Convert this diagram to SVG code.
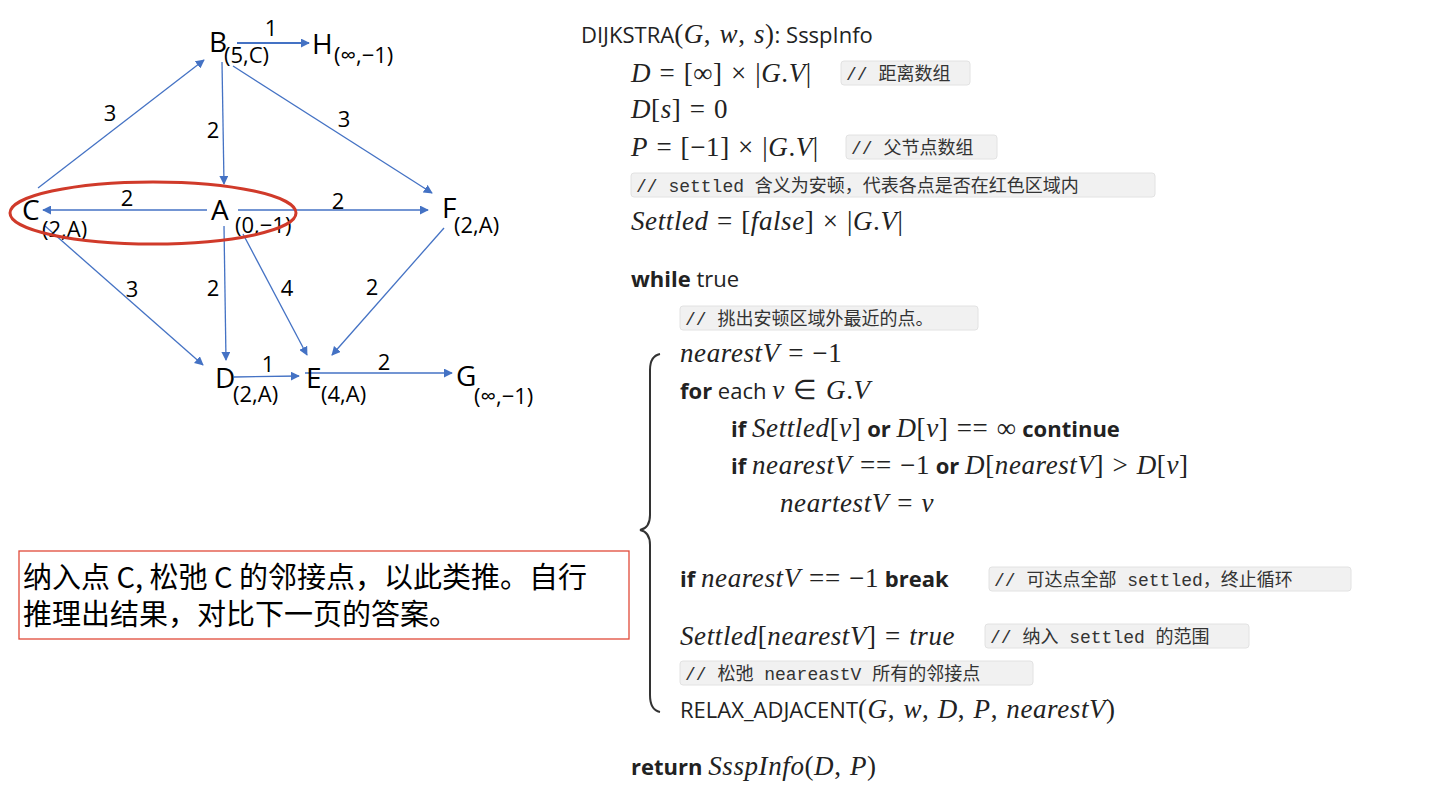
<svg xmlns="http://www.w3.org/2000/svg" width="1440" height="810" viewBox="0 0 1440 810">
<defs>
<marker id="ar" viewBox="0 0 10 10" refX="9" refY="5" markerWidth="9" markerHeight="9" markerUnits="userSpaceOnUse" orient="auto"><path d="M0,0L10,5L0,10z" fill="#4472C4"/></marker>
<style>
.e{stroke:#4472C4;stroke-width:1.3;fill:none;marker-end:url(#ar)}
.n{font-family:"Open Sans","Noto Sans",sans-serif;font-size:28px;fill:#000}
.s{font-family:"Open Sans","Noto Sans",sans-serif;font-size:22px;fill:#000}
.w{font-family:"Open Sans","Noto Sans",sans-serif;font-size:22px;fill:#000;text-anchor:middle}
.m{font-family:"Liberation Serif",serif;font-size:27px;fill:#222;letter-spacing:0.6px;word-spacing:1px}
.i{font-style:italic}
.k{font-family:"Open Sans","Noto Sans",sans-serif;font-size:22px;fill:#222}
.b{font-weight:bold}
.c{font-family:"Liberation Mono","Noto Sans CJK SC",monospace;font-size:18px;fill:#333}
.cb{fill:#f1f1f1;stroke:#e2e2e2;stroke-width:1}
</style>
</defs>
<rect width="1440" height="810" fill="#fff"/>
<g id="connectors">
<line class="e" x1="38" y1="188" x2="204" y2="60"/>
<line class="e" x1="222" y1="62" x2="224" y2="184"/>
<line class="e" x1="233" y1="66" x2="432" y2="193"/>
<line class="e" x1="207" y1="210" x2="43" y2="210"/>
<line class="e" x1="238" y1="210" x2="428" y2="210"/>
<line class="e" x1="45" y1="226" x2="203" y2="365"/>
<line class="e" x1="224" y1="226" x2="226" y2="360"/>
<line class="e" x1="243" y1="234" x2="307" y2="355"/>
<line class="e" x1="444" y1="228" x2="332" y2="355"/>
<line class="e" x1="234" y1="377" x2="299" y2="376"/>
<line class="e" x1="305" y1="373" x2="452" y2="373"/>
<line class="e" x1="237" y1="43" x2="309" y2="43" style="stroke-width:2.2"/>
<text class="w" x="110" y="121">3</text>
<text class="w" x="213" y="138">2</text>
<text class="w" x="344" y="127">3</text>
<text class="w" x="127" y="206">2</text>
<text class="w" x="338" y="209">2</text>
<text class="w" x="132" y="297">3</text>
<text class="w" x="213" y="296">2</text>
<text class="w" x="287" y="296">4</text>
<text class="w" x="372" y="295">2</text>
<text class="w" x="268" y="372">1</text>
<text class="w" x="384" y="370">2</text>
<text class="w" x="271" y="36">1</text>
</g>
<g id="nodeB"><text class="n" x="209" y="52">B</text><text class="s" x="224" y="63">(5,C)</text></g>
<g id="nodeH"><text class="n" x="312" y="54">H</text><text class="s" x="334" y="63">(∞,−1)</text></g>
<g id="nodeC"><text class="n" x="22" y="220">C</text><text class="s" x="42" y="237">(2,A)</text></g>
<g id="nodeA"><text class="n" x="211" y="220">A</text><text class="s" x="235" y="233">(0,−1)</text></g>
<g id="nodeF"><text class="n" x="442" y="218">F</text><text class="s" x="454" y="233">(2,A)</text></g>
<g id="nodeD"><text class="n" x="215" y="388">D</text><text class="s" x="233" y="402">(2,A)</text></g>
<g id="nodeE"><text class="n" x="306" y="388">E</text><text class="s" x="321" y="402">(4,A)</text></g>
<g id="nodeG"><text class="n" x="456" y="386">G</text><text class="s" x="474" y="404">(∞,−1)</text></g>
<ellipse id="settled" cx="153" cy="213" rx="143" ry="31" fill="none" stroke="#d03a2a" stroke-width="3"/>
<g id="note">
<rect x="19" y="551" width="610" height="88" fill="none" stroke="#e04a3a" stroke-width="1.3"/>
<text x="23" y="588" style="font-family:'Noto Sans CJK SC',sans-serif;font-size:29px">纳入点 C, 松弛 C 的邻接点，以此类推。自行</text>
<text x="23" y="625" style="font-family:'Noto Sans CJK SC',sans-serif;font-size:29px">推理出结果，对比下一页的答案。</text>
</g>
<g id="code">
<text class="k" x="581" y="43">DIJKSTRA<tspan class="m">(<tspan class="i">G</tspan>, <tspan class="i">w</tspan>, <tspan class="i">s</tspan>)</tspan>: SsspInfo</text>
<text class="m" x="631" y="82"><tspan class="i">D</tspan> = [∞] × |<tspan class="i">G</tspan>.<tspan class="i">V</tspan>|</text>
<rect class="cb" x="841" y="61" width="129" height="24" rx="3"/><text class="c" x="846" y="80">// 距离数组</text>
<text class="m" x="631" y="118"><tspan class="i">D</tspan>[<tspan class="i">s</tspan>] = 0</text>
<text class="m" x="631" y="156"><tspan class="i">P</tspan> = [−1] × |<tspan class="i">G</tspan>.<tspan class="i">V</tspan>|</text>
<rect class="cb" x="846" y="135" width="151" height="24" rx="3"/><text class="c" x="851" y="154">// 父节点数组</text>
<rect class="cb" x="631" y="173" width="524" height="24" rx="3"/><text class="c" x="636" y="192">// settled 含义为安顿，代表各点是否在红色区域内</text>
<text class="m" x="631" y="230"><tspan class="i">Settled</tspan> = [<tspan class="i">false</tspan>] × |<tspan class="i">G</tspan>.<tspan class="i">V</tspan>|</text>
<text class="k" x="631" y="287"><tspan class="b">while</tspan> true</text>
<rect class="cb" x="680" y="306" width="298" height="24" rx="3"/><text class="c" x="685" y="325">// 挑出安顿区域外最近的点。</text>
<path d="M660,354 Q650,356 650,370 L650,515 Q650,528 640,530 Q650,532 650,545 L650,695 Q650,710 660,712" fill="none" stroke="#333" stroke-width="2"/>
<text class="m" x="680" y="362"><tspan class="i">nearestV</tspan> = −1</text>
<text class="k" x="680" y="399"><tspan class="b">for</tspan> each <tspan class="m"><tspan class="i">v</tspan> ∈ <tspan class="i">G</tspan>.<tspan class="i">V</tspan></tspan></text>
<text class="k" x="731" y="437"><tspan class="b">if</tspan> <tspan class="m"><tspan class="i">Settled</tspan>[<tspan class="i">v</tspan>]</tspan> <tspan class="b">or</tspan> <tspan class="m"><tspan class="i">D</tspan>[<tspan class="i">v</tspan>] == ∞</tspan> <tspan class="b">continue</tspan></text>
<text class="k" x="731" y="474"><tspan class="b">if</tspan> <tspan class="m"><tspan class="i">nearestV</tspan> == −1</tspan> <tspan class="b">or</tspan> <tspan class="m"><tspan class="i">D</tspan>[<tspan class="i">nearestV</tspan>] &gt; <tspan class="i">D</tspan>[<tspan class="i">v</tspan>]</tspan></text>
<text class="m" x="780" y="512"><tspan class="i">neartestV</tspan> = <tspan class="i">v</tspan></text>
<text class="k" x="680" y="587"><tspan class="b">if</tspan> <tspan class="m"><tspan class="i">nearestV</tspan> == −1</tspan> <tspan class="b">break</tspan></text>
<rect class="cb" x="989" y="567" width="362" height="24" rx="3"/><text class="c" x="994" y="586">// 可达点全部 settled，终止循环</text>
<text class="m" x="680" y="645"><tspan class="i">Settled</tspan>[<tspan class="i">nearestV</tspan>] = <tspan class="i">true</tspan></text>
<rect class="cb" x="985" y="624" width="264" height="24" rx="3"/><text class="c" x="990" y="643">// 纳入 settled 的范围</text>
<rect class="cb" x="680" y="661" width="353" height="24" rx="3"/><text class="c" x="685" y="680">// 松弛 neareastV 所有的邻接点</text>
<text class="k" x="680" y="718">RELAX_ADJACENT<tspan class="m">(<tspan class="i">G</tspan>, <tspan class="i">w</tspan>, <tspan class="i">D</tspan>, <tspan class="i">P</tspan>, <tspan class="i">nearestV</tspan>)</tspan></text>
<text class="k" x="631" y="775"><tspan class="b">return</tspan> <tspan class="m"><tspan class="i">SsspInfo</tspan>(<tspan class="i">D</tspan>, <tspan class="i">P</tspan>)</tspan></text>
</g>
</svg>
